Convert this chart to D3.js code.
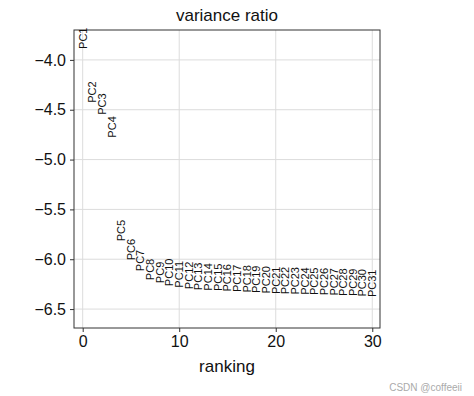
<!DOCTYPE html>
<html lang="en">
  <head>
    <meta charset="UTF-8" />
    <title>variance ratio</title>
    <script src="https://d3js.org/d3.v7.min.js"></script>
    <style>
      body { margin: 0; background: #fff; }
      svg { font-family: "Liberation Sans", Arial, sans-serif; }
      .grid line { stroke: #dcdcdc; stroke-width: 1; }
    </style>
  </head>
  <body>
    <script>
      // PC labels and their (log) variance ratio
      const pcs = d3.range(1, 32).map(i => "PC" + i);
      const ratios = [
        -3.89, -4.43, -4.55, -4.78, -5.82, -6.01, -6.12, -6.21, -6.24, -6.27,
        -6.285, -6.3, -6.31, -6.315, -6.32, -6.325, -6.33, -6.335, -6.34, -6.345,
        -6.35, -6.352, -6.355, -6.357, -6.36, -6.362, -6.365, -6.368, -6.37, -6.375,
        -6.38
      ];
      const xTicks = [0, 10, 20, 30];
      const yTicks = [-4.0, -4.5, -5.0, -5.5, -6.0, -6.5];

      const W = 474, H = 396;
      const box = { left: 74, right: 380, top: 30, bottom: 328 };

      const svg = d3.select("body").append("svg")
        .attr("width", W).attr("height", H);

      const x = d3.scaleLinear().domain([-0.9, 30.8]).range([box.left, box.right]);
      const y = d3.scaleLinear().domain([-6.69, -3.7]).range([box.bottom, box.top]);

      // grid
      const grid = svg.append("g").attr("class", "grid");
      grid.selectAll(".gx").data(xTicks).enter().append("line")
        .attr("x1", d => x(d)).attr("x2", d => x(d))
        .attr("y1", box.top).attr("y2", box.bottom);
      grid.selectAll(".gy").data(yTicks).enter().append("line")
        .attr("y1", d => y(d)).attr("y2", d => y(d))
        .attr("x1", box.left).attr("x2", box.right);

      // axes
      const xAxis = svg.append("g")
        .attr("transform", `translate(0,${box.bottom})`)
        .call(d3.axisBottom(x).tickValues(xTicks).tickSize(4).tickPadding(4).tickFormat(d3.format("d")));
      const yAxis = svg.append("g")
        .attr("transform", `translate(${box.left},0)`)
        .call(d3.axisLeft(y).tickValues(yTicks).tickSize(4).tickPadding(4)
          .tickFormat(d => d3.format(".1f")(d).replace("-", "\u2212")));
      [xAxis, yAxis].forEach(a => {
        a.select(".domain").remove();
        a.selectAll("line").attr("stroke", "#333");
        a.selectAll("text").attr("font-size", 16).attr("fill", "#111")
          .attr("font-family", "Liberation Sans, Arial, sans-serif");
      });

      // frame
      svg.append("rect")
        .attr("x", box.left).attr("y", box.top)
        .attr("width", box.right - box.left).attr("height", box.bottom - box.top)
        .attr("fill", "none").attr("stroke", "#333").attr("stroke-width", 1);

      // PC labels, vertical, starting at the data point
      svg.append("g").selectAll("text")
        .data(ratios).enter().append("text")
        .attr("transform", (d, i) => `translate(${x(i)},${y(d)}) rotate(-90)`)
        .attr("dy", "0.35em")
        .attr("font-size", 11)
        .attr("fill", "#111")
        .text((d, i) => pcs[i]);

      svg.append("text")
        .attr("x", (box.left + box.right) / 2).attr("y", 21)
        .attr("text-anchor", "middle").attr("font-size", 17).attr("fill", "#111")
        .text("variance ratio");

      svg.append("text")
        .attr("x", (box.left + box.right) / 2).attr("y", 372)
        .attr("text-anchor", "middle").attr("font-size", 17).attr("fill", "#111")
        .text("ranking");

      svg.append("text")
        .attr("x", 462).attr("y", 391)
        .attr("text-anchor", "end").attr("font-size", 10).attr("fill", "#aaa")
        .text("CSDN @coffeeii");
    </script>
  </body>
</html>
